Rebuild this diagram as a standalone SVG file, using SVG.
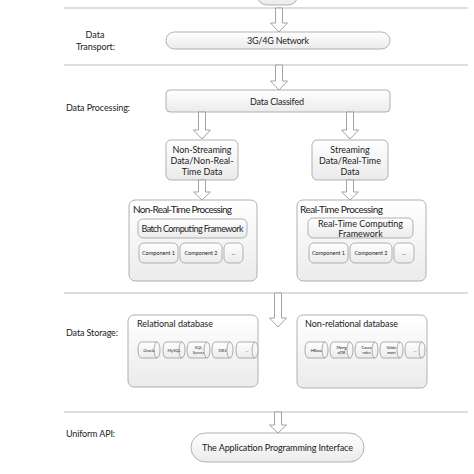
<svg xmlns="http://www.w3.org/2000/svg" width="474" height="474" viewBox="0 0 474 474">
<defs>
<linearGradient id="g" x1="0" y1="0" x2="0" y2="1">
<stop offset="0" stop-color="#ffffff"/>
<stop offset="1" stop-color="#ebebeb"/>
</linearGradient>
<style>
.t{font-family:Lato,"Liberation Sans",sans-serif;fill:#222;}
.box{fill:url(#g);stroke:#a8a8a8;stroke-width:0.9;}
.sep{stroke:#bdbdbd;stroke-width:1;fill:none;}
.arr{fill:#fff;stroke:#9a9a9a;stroke-width:0.9;}
.cyl{fill:url(#g);stroke:#9a9a9a;stroke-width:0.8;}
.s9{font-size:9px;}
.s10{font-size:10px;}
.s6{font-size:5.5px;}
.s4{font-size:4px;}
.m{text-anchor:middle;}
</style>
</defs>
<rect width="474" height="474" fill="#fff"/>

<g id="separators">
<line class="sep" x1="64" y1="8" x2="468" y2="8"/>
<line class="sep" x1="64" y1="65" x2="468" y2="65"/>
<line class="sep" x1="64" y1="293" x2="468" y2="293"/>
<line class="sep" x1="64" y1="412" x2="468" y2="412"/>
</g>

<g id="stage-labels">
<text class="t s9 m" x="95" y="38">Data</text>
<text class="t s9 m" x="95.5" y="50" textLength="39">Transport:</text>
<text class="t s9" x="66" y="111" textLength="64">Data Processing:</text>
<text class="t s9" x="66" y="336" textLength="52">Data Storage:</text>
<text class="t s9" x="66" y="437" textLength="49">Uniform API:</text>
</g>

<g id="top-source">
<rect class="box" x="257" y="-20" width="41" height="25" rx="10"/>
</g>

<g id="network">
<rect class="box" x="166" y="32" width="224" height="17" rx="8.5"/>
<text class="t s9 m" x="278" y="44" textLength="62">3G/4G Network</text>
</g>

<g id="data-classified">
<rect class="box" x="166" y="90" width="224" height="22" rx="4"/>
<text class="t s9 m" x="277" y="104.5" textLength="54">Data Classifed</text>
</g>

<g id="non-streaming">
<rect class="box" x="166" y="140" width="72" height="40" rx="5"/>
<text class="t s9 m" x="202" y="152.5" textLength="59">Non-Streaming</text>
<text class="t s9 m" x="202" y="163.5">Data/Non-Real-</text>
<text class="t s9 m" x="202" y="174.5">Time Data</text>
</g>

<g id="streaming">
<rect class="box" x="312" y="140" width="76" height="40" rx="5"/>
<text class="t s9 m" x="350" y="152.5">Streaming</text>
<text class="t s9 m" x="350" y="163.5">Data/Real-Time</text>
<text class="t s9 m" x="350" y="174.5">Data</text>
</g>

<g id="non-real-time-processing">
<rect class="box" x="129" y="200" width="128" height="81" rx="6"/>
<text class="t s10" x="133" y="213" textLength="99">Non-Real-Time Processing</text>
<rect class="box" x="138" y="219" width="109" height="19" rx="5"/>
<text class="t s9 m" x="192.5" y="231.5" textLength="102">Batch Computing Framework</text>
<rect class="box" x="139" y="243" width="39" height="20" rx="5"/>
<text class="t s6 m" x="158.5" y="255">Component 1</text>
<rect class="box" x="180" y="243" width="42" height="20" rx="5"/>
<text class="t s6 m" x="201" y="255">Component 2</text>
<rect class="box" x="224" y="243" width="19" height="20" rx="5"/>
<text class="t s6 m" x="233.5" y="255">...</text>
</g>

<g id="real-time-processing">
<rect class="box" x="297" y="200" width="129" height="81" rx="6"/>
<text class="t s10" x="300" y="213" textLength="83">Real-Time Processing</text>
<rect class="box" x="308" y="218" width="105" height="20" rx="5"/>
<text class="t s9 m" x="360.5" y="226.5">Real-Time Computing</text>
<text class="t s9 m" x="360.5" y="236.5">Framework</text>
<rect class="box" x="309" y="243" width="39" height="20" rx="5"/>
<text class="t s6 m" x="328.5" y="255">Component 1</text>
<rect class="box" x="350" y="243" width="42" height="20" rx="5"/>
<text class="t s6 m" x="371" y="255">Component 2</text>
<rect class="box" x="394" y="243" width="20" height="20" rx="5"/>
<text class="t s6 m" x="404" y="255">...</text>
</g>

<g id="relational-database">
<rect class="box" x="128" y="315" width="130" height="72" rx="6"/>
<text class="t s9" x="137" y="327" textLength="76">Relational database</text>
<path class="cyl" d="M141,342 H157 A3,8 0 0 1 157,358 H141 A3,8 0 0 1 141,342 Z M157,342 A3,8 0 0 0 157,358"/>
<text class="t s4 m" x="149" y="351.5">Oracle</text>
<path class="cyl" d="M166,342 H182 A3,8 0 0 1 182,358 H166 A3,8 0 0 1 166,342 Z M182,342 A3,8 0 0 0 182,358"/>
<text class="t s4 m" x="174" y="351.5">MySQL</text>
<path class="cyl" d="M190,342 H207 A3,8 0 0 1 207,358 H190 A3,8 0 0 1 190,342 Z M207,342 A3,8 0 0 0 207,358"/>
<text class="t s4 m" x="198.5" y="349">SQL</text>
<text class="t s4 m" x="198.5" y="354">Server</text>
<path class="cyl" d="M215,342 H230 A3,8 0 0 1 230,358 H215 A3,8 0 0 1 215,342 Z M230,342 A3,8 0 0 0 230,358"/>
<text class="t s4 m" x="222.5" y="351.5">DB2</text>
<path class="cyl" d="M239,342 H255 A3,8 0 0 1 255,358 H239 A3,8 0 0 1 239,342 Z M255,342 A3,8 0 0 0 255,358"/>
<text class="t s4 m" x="247" y="351.5">...</text>
</g>

<g id="non-relational-database">
<rect class="box" x="297" y="315" width="130" height="73" rx="6"/>
<text class="t s9" x="305" y="327" textLength="93">Non-relational database</text>
<path class="cyl" d="M308,342 H325 A3,8 0 0 1 325,358 H308 A3,8 0 0 1 308,342 Z M325,342 A3,8 0 0 0 325,358"/>
<text class="t s4 m" x="316.5" y="351.5">HBase</text>
<path class="cyl" d="M333,342 H350 A3,8 0 0 1 350,358 H333 A3,8 0 0 1 333,342 Z M350,342 A3,8 0 0 0 350,358"/>
<text class="t s4 m" x="341.5" y="349">Mong</text>
<text class="t s4 m" x="341.5" y="354">oDB</text>
<path class="cyl" d="M358,342 H375 A3,8 0 0 1 375,358 H358 A3,8 0 0 1 358,342 Z M375,342 A3,8 0 0 0 375,358"/>
<text class="t s4 m" x="366.5" y="349">Cassa</text>
<text class="t s4 m" x="366.5" y="354">ndra</text>
<path class="cyl" d="M383,342 H400 A3,8 0 0 1 400,358 H383 A3,8 0 0 1 383,342 Z M400,342 A3,8 0 0 0 400,358"/>
<text class="t s4 m" x="391.5" y="349">Volde</text>
<text class="t s4 m" x="391.5" y="354">mort</text>
<path class="cyl" d="M408,342 H422 A3,8 0 0 1 422,358 H408 A3,8 0 0 1 408,342 Z M422,342 A3,8 0 0 0 422,358"/>
<text class="t s4 m" x="415" y="351.5">...</text>
</g>

<g id="api">
<rect class="box" x="191" y="433" width="173" height="29" rx="14.5"/>
<text class="t s9 m" x="277.5" y="450.5" textLength="151">The Application Programming Interface</text>
</g>

<g id="connectors">
<path class="arr" d="M275.5,8 V23 H270.5 L279,32 L287.5,23 H282.5 V8 Z"/>
<path class="arr" d="M275.5,65 V81 H270.5 L279,90 L287.5,81 H282.5 V65 Z"/>
<path class="arr" d="M198.5,112 V130 H193.5 L202,139 L210.5,130 H205.5 V112 Z"/>
<path class="arr" d="M346.5,112 V130 H341.5 L350,139 L358.5,130 H353.5 V112 Z"/>
<path class="arr" d="M198.5,180 V192 H193.5 L202,200 L210.5,192 H205.5 V180 Z"/>
<path class="arr" d="M346.5,180 V192 H341.5 L350,200 L358.5,192 H353.5 V180 Z"/>
<path class="arr" d="M274.5,293 V318 H269.5 L278,327 L286.5,318 H281.5 V293 Z"/>
<path class="arr" d="M274.5,412 V425 H269.5 L278,433 L286.5,425 H281.5 V412 Z"/>
</g>
</svg>
